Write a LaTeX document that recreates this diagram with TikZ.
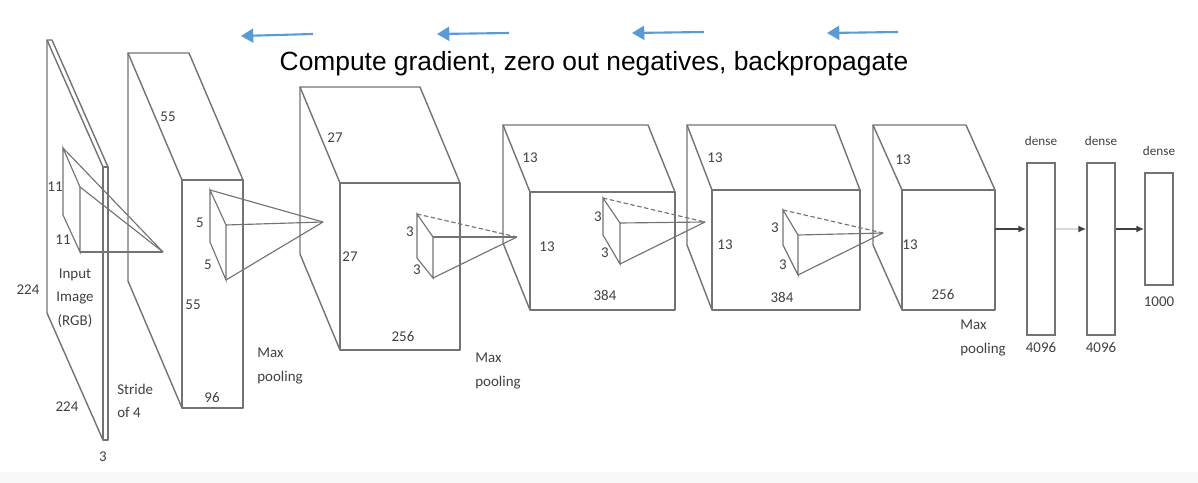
\documentclass[tikz,border=0pt]{standalone}
\usepackage{fontspec}
\setmainfont{Carlito}
\newfontfamily\titleFont{Liberation Sans}
\usepackage{tikz}
\usetikzlibrary{positioning}
\usetikzlibrary{arrows.meta}
\definecolor{edgeColor}{rgb}{0.45,0.45,0.45}
\definecolor{labelColor}{rgb}{0.25,0.25,0.25}
\definecolor{backColor}{RGB}{91,155,213}
\definecolor{stripColor}{rgb}{0.973,0.973,0.973}

\begin{document}
\begin{tikzpicture}[x=0.02cm,y=-0.02cm]

            \tikzstyle{blockEdge} = [edgeColor, line width=0.8pt, line join=round];
            \tikzstyle{kernelEdge} = [edgeColor, line width=0.65pt];
            \tikzstyle{kernelDash} = [kernelEdge, dash pattern=on 2.5pt off 1.5pt];
            \tikzstyle{dimLabel} = [labelColor, inner sep=0pt, font=\fontsize{8.5}{13.5}\selectfont];
            \tikzstyle{denseLabel} = [labelColor, inner sep=0pt, font=\fontsize{7.5}{9}\selectfont];
            \tikzstyle{denseBox} = [draw=edgeColor, line width=0.9pt, minimum width=0.56cm, inner sep=0pt];
            \tikzstyle{denseArrow} = [line width=1pt, black!75, -{Latex[length=4.5pt,width=4pt]}];
            \tikzstyle{fadedArrow} = [line width=1pt, black!15, -{Latex[length=4.5pt,width=4pt,color=black!75]}];
            \tikzstyle{backArrow} = [backColor, line width=1.2pt, -{Triangle[length=7pt,width=8pt]}];
            \tikzstyle{titleText} = [black, inner sep=0pt, font=\titleFont\fontsize{15}{18}\selectfont];

            \newcommand*\drawLayer[7]{
              \draw[blockEdge] (#2,#3) rectangle (#2+#4,#3+#5);
              \draw[blockEdge] (#2,#3) -- (#2-#6,#3-#7) -- (#2+#4-#6,#3-#7) -- (#2+#4,#3);
              \draw[blockEdge] (#2-#6,#3-#7) -- (#2-#6,#3+#5-#7) -- (#2,#3+#5);
              \coordinate (#1-ftr) at (#2+#4,#3);
            }
            \newcommand*\drawKernel[7]{
              \coordinate (#1-bt) at (#2);
              \coordinate (#1-bb) at (#3);
              \coordinate (#1-ft) at (#4);
              \coordinate (#1-fb) at (#5);
              \coordinate (#1-apex) at (#6);
              \draw[kernelEdge] (#1-ft) -- (#1-bt) -- (#1-bb) -- (#1-fb) -- cycle;
              \draw[kernelEdge] (#1-ft) -- (#1-apex);
              \draw[kernelEdge] (#1-fb) -- (#1-apex);
              \draw[#7] (#1-bt) -- (#1-apex);
            }

            \useasboundingbox (0,0) rectangle (1198,483);
            \fill[stripColor] (0,472) rectangle (1198,483);

            \drawLayer{img}{103}{167}{5}{273}{56}{127}
            \drawLayer{convOne}{182}{180}{61}{228}{54}{127}
            \drawLayer{convTwo}{340}{183}{120}{167}{40}{96}
            \drawLayer{convThree}{530}{192}{145}{118}{27}{67}
            \drawLayer{convFour}{712}{190}{148}{120}{25}{65}
            \drawLayer{convFive}{902}{190}{93}{120}{29}{65}

            \drawKernel{kImg}{63,148}{63,215}{80,187}{80,252}{163,252}{kernelEdge}
            \drawKernel{kOne}{210,190}{210,242}{226,225}{226,280}{323,222}{kernelEdge}
            \drawKernel{kTwo}{417,214}{417,258}{433,237}{433,278}{517,237}{kernelDash}
            \drawKernel{kThree}{603,198}{603,235}{620,223}{620,264}{705,222}{kernelDash}
            \drawKernel{kFour}{783,210}{783,245}{798,235}{798,275}{883,233}{kernelDash}

            \node[dimLabel] (imgKh) at (55,187) {11};
            \node[dimLabel] (imgKw) at (63,240) {11};
            \node[dimLabel] (imgH) at (28,290) {224};
            \node[dimLabel, align=center] (imgName) at (75,298) {Input\\Image\\(RGB)};
            \node[dimLabel] (imgW) at (67,407) {224};
            \node[dimLabel] (imgD) at (103,457) {3};
            \node[dimLabel, align=left, anchor=west] (stride) at (117,401) {Stride\\of 4};

            \node[dimLabel] (oneW) at (168,117) {55};
            \node[dimLabel] (oneH) at (193,305) {55};
            \node[dimLabel] (oneD) at (212,398) {96};
            \node[dimLabel] (oneKh) at (200,223) {5};
            \node[dimLabel] (oneKw) at (208,265) {5};
            \node[dimLabel, align=left, anchor=west] (poolOne) at (257,366) {Max\\pooling};

            \node[dimLabel] (twoW) at (335,138) {27};
            \node[dimLabel] (twoH) at (350,257) {27};
            \node[dimLabel] (twoD) at (403,337) {256};
            \node[dimLabel] (twoKh) at (410,232) {3};
            \node[dimLabel] (twoKw) at (417,270) {3};
            \node[dimLabel, align=left, anchor=west] (poolTwo) at (475,371) {Max\\pooling};

            \node[dimLabel] (threeW) at (530,158) {13};
            \node[dimLabel] (threeH) at (547,247) {13};
            \node[dimLabel] (threeD) at (605,295) {384};
            \node[dimLabel] (threeKh) at (598,217) {3};
            \node[dimLabel] (threeKw) at (605,253) {3};

            \node[dimLabel] (fourW) at (715,158) {13};
            \node[dimLabel] (fourH) at (725,245) {13};
            \node[dimLabel] (fourD) at (782,297) {384};
            \node[dimLabel] (fourKh) at (775,228) {3};
            \node[dimLabel] (fourKw) at (783,265) {3};

            \node[dimLabel] (fiveW) at (903,160) {13};
            \node[dimLabel] (fiveH) at (910,245) {13};
            \node[dimLabel] (fiveD) at (943,295) {256};
            \node[dimLabel, align=left, anchor=west] (poolThree) at (960,338) {Max\\pooling};

            \node[denseBox, minimum height=3.44cm] (denseOne) at (1041,249) {};
            \node[denseBox, minimum height=3.44cm] (denseTwo) at (1101,249) {};
            \node[denseBox, minimum height=2.24cm] (denseThree) at (1159,229) {};

            \node[denseLabel, above=9pt of denseOne] (denseOneName) {dense};
            \node[denseLabel, above=9pt of denseTwo] (denseTwoName) {dense};
            \node[denseLabel, above=9pt of denseThree] (denseThreeName) {dense};
            \node[dimLabel, below=3.5pt of denseOne] (denseOneSize) {4096};
            \node[dimLabel, below=3.5pt of denseTwo] (denseTwoSize) {4096};
            \node[dimLabel, below=6pt of denseThree] (denseThreeSize) {1000};

            \coordinate (poolOut) at (995,229);
            \draw[denseArrow] (poolOut) -- (poolOut -| denseOne.west);
            \draw[fadedArrow] (poolOut -| denseOne.east) -- (poolOut -| denseTwo.west);
            \draw[denseArrow] (poolOut -| denseTwo.east) -- (poolOut -| denseThree.west);

            \node[titleText] (title) at (594,64) {Compute gradient, zero out negatives, backpropagate};

            \coordinate (bpTailA) at (313,34);
            \coordinate (bpTipA) at (241,36);
            \coordinate (bpTailB) at (509,33);
            \coordinate (bpTipB) at (437,34);
            \coordinate (bpTailC) at (704,32);
            \coordinate (bpTipC) at (632,33);
            \coordinate (bpTailD) at (898,32);
            \coordinate (bpTipD) at (827,33);
            \draw[backArrow] (bpTailA) -- (bpTipA);
            \draw[backArrow] (bpTailB) -- (bpTipB);
            \draw[backArrow] (bpTailC) -- (bpTipC);
            \draw[backArrow] (bpTailD) -- (bpTipD);
\end{tikzpicture}
\end{document}
